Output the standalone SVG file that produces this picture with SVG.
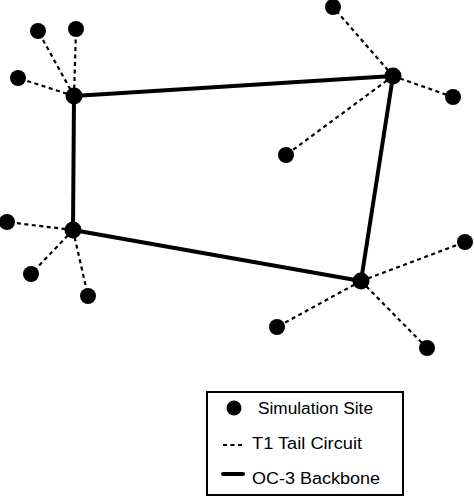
<svg xmlns="http://www.w3.org/2000/svg" width="474" height="502" viewBox="0 0 474 502">
<style>
.bb{stroke:#000;stroke-width:4;fill:none;stroke-linecap:round}
.t1{stroke:#000;stroke-width:2.2;fill:none;stroke-dasharray:4 3.5}
.site{fill:#000}
.lbl{font-family:"Liberation Sans",Arial,sans-serif;font-size:16px;fill:#000}
</style>
<rect width="474" height="502" fill="#fff"/>
<g id="connectors">
<line class="bb" x1="74" y1="96" x2="393" y2="76"/>
<line class="bb" x1="74" y1="96" x2="73" y2="230"/>
<line class="bb" x1="73" y1="230" x2="361" y2="281"/>
<line class="bb" x1="393" y1="76" x2="361" y2="281"/>
<line class="t1" x1="74" y1="96" x2="38" y2="31"/>
<line class="t1" x1="74" y1="96" x2="76" y2="29"/>
<line class="t1" x1="74" y1="96" x2="18" y2="78"/>
<line class="t1" x1="393" y1="76" x2="333" y2="7"/>
<line class="t1" x1="393" y1="76" x2="453" y2="97"/>
<line class="t1" x1="393" y1="76" x2="286" y2="155"/>
<line class="t1" x1="73" y1="230" x2="7" y2="222"/>
<line class="t1" x1="73" y1="230" x2="31" y2="274"/>
<line class="t1" x1="73" y1="230" x2="88" y2="296"/>
<line class="t1" x1="361" y1="281" x2="465" y2="242"/>
<line class="t1" x1="361" y1="281" x2="277" y2="327"/>
<line class="t1" x1="361" y1="281" x2="427" y2="348"/>
</g>
<g id="hubA"><circle class="site" cx="74" cy="96" r="8.5"/></g>
<g id="hubB"><circle class="site" cx="393" cy="76" r="8.5"/></g>
<g id="hubC"><circle class="site" cx="73" cy="230" r="8.5"/></g>
<g id="hubD"><circle class="site" cx="361" cy="281" r="8.5"/></g>
<g id="a1"><circle class="site" cx="38" cy="31" r="8"/></g>
<g id="a2"><circle class="site" cx="76" cy="29" r="8"/></g>
<g id="a3"><circle class="site" cx="18" cy="78" r="8"/></g>
<g id="b1"><circle class="site" cx="333" cy="7" r="8"/></g>
<g id="b2"><circle class="site" cx="453" cy="97" r="8"/></g>
<g id="b3"><circle class="site" cx="286" cy="155" r="8"/></g>
<g id="c1"><circle class="site" cx="7" cy="222" r="8"/></g>
<g id="c2"><circle class="site" cx="31" cy="274" r="8"/></g>
<g id="c3"><circle class="site" cx="88" cy="296" r="8"/></g>
<g id="d1"><circle class="site" cx="465" cy="242" r="8"/></g>
<g id="d2"><circle class="site" cx="277" cy="327" r="8"/></g>
<g id="d3"><circle class="site" cx="427" cy="348" r="8"/></g>
<g id="legend">
<rect x="207" y="392" width="196" height="103" fill="#fff" stroke="#000" stroke-width="2"/>
<circle class="site" cx="234" cy="408" r="7.5"/>
<text class="lbl" x="258" y="414" textLength="115" lengthAdjust="spacingAndGlyphs">Simulation Site</text>
<line class="t1" x1="223" y1="445" x2="243" y2="445"/>
<text class="lbl" x="252" y="449" textLength="110" lengthAdjust="spacingAndGlyphs">T1 Tail Circuit</text>
<line class="bb" x1="223" y1="474" x2="243" y2="474" stroke-linecap="butt"/>
<text class="lbl" x="252" y="484" textLength="128" lengthAdjust="spacingAndGlyphs">OC-3 Backbone</text>
</g>
</svg>
